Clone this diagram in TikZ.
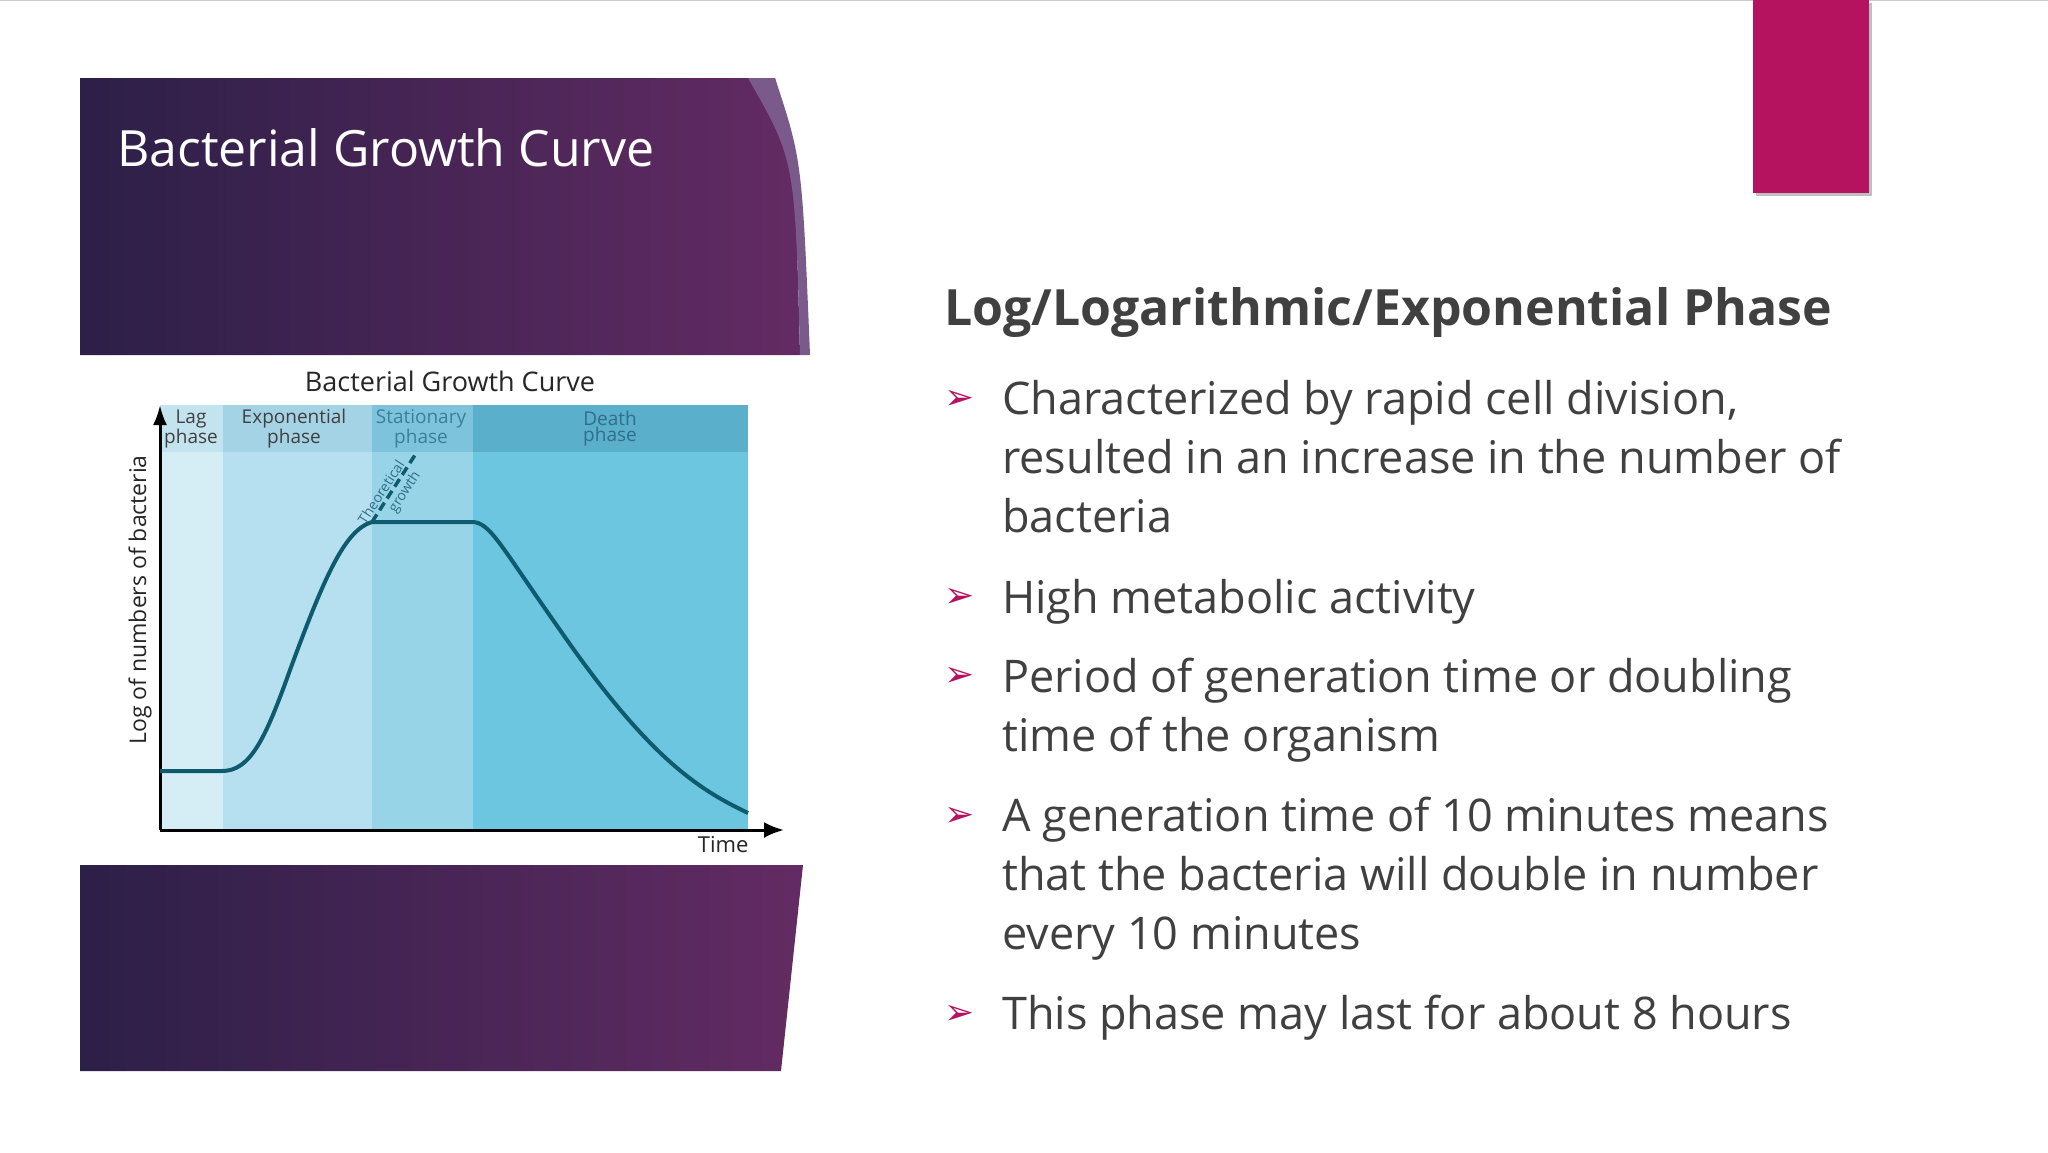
\documentclass[tikz,border=0pt]{standalone}
\usepackage{fontspec}
\usetikzlibrary{arrows.meta}
\setmainfont{Open Sans}
\newfontfamily\dejavu{DejaVu Sans}
\definecolor{txt}{HTML}{404040}
\definecolor{pink}{HTML}{B5135F}
\definecolor{curve}{HTML}{0E5A6E}
\definecolor{pdark}{HTML}{2C1F48}
\definecolor{plight}{HTML}{632B63}
\definecolor{strip}{HTML}{7A5A8A}
\definecolor{bA}{HTML}{D5EEF6}
\definecolor{bB}{HTML}{B6E0EF}
\definecolor{bC}{HTML}{98D4E8}
\definecolor{bD}{HTML}{6CC6DF}
\definecolor{hA}{HTML}{C3E4EF}
\definecolor{hB}{HTML}{A3D3E4}
\definecolor{hC}{HTML}{7EC3DC}
\definecolor{hD}{HTML}{5AAFCA}
\definecolor{tS}{HTML}{3C7F9A}
\definecolor{tD}{HTML}{2F6F8A}
\tikzset{
  bl/.style={anchor=west,text=txt,font=\fontsize{45}{59}\selectfont,align=left,inner sep=0pt},
  mk/.style={anchor=center,text=pink,font=\dejavu\fontsize{36}{36}\selectfont},
  hd/.style={font=\fontsize{19}{16}\selectfont,align=center,inner sep=0pt},
  th/.style={rotate=57,font=\fontsize{14}{14}\selectfont,text=tD,inner sep=0pt},
}
\begin{document}
\begin{tikzpicture}[x=1pt,y=-1pt]
\useasboundingbox[fill=white] (0,0) rectangle (2048,1152);
\draw[gray!40,line width=2pt] (0,0) -- (2048,0);
% pink block
\fill[black!25] (1756,3) rectangle (1872,196);
\fill[pink] (1753,0) rectangle (1869,193);
% header
\shade[left color=pdark,right color=plight] (80,78) -- (775,78) .. controls (795,160) .. (800,355) -- (80,355) -- cycle;
\fill[strip] (748,78) -- (775,78) .. controls (802,160) .. (810,355) -- (800,355) .. controls (795,160) .. (748,78) -- cycle;
\node[anchor=west,text=white,font=\fontsize{50}{50}\selectfont,inner sep=0pt] (title) at (117,148) {Bacterial Growth Curve};
% bottom block
\shade[left color=pdark,right color=plight] (80,865) -- (803,865) -- (781,1071) -- (80,1071) -- cycle;
% chart bands
\fill[bA] (160,405) rectangle (223,829);
\fill[bB] (223,405) rectangle (372,829);
\fill[bC] (372,405) rectangle (473,829);
\fill[bD] (473,405) rectangle (748,829);
\fill[hA] (160,405) rectangle (223,452);
\fill[hB] (223,405) rectangle (372,452);
\fill[hC] (372,405) rectangle (473,452);
\fill[hD] (473,405) rectangle (748,452);
\node[hd,text=txt] (lag) at (191,429) {Lag\\phase};
\node[hd,text=txt] (exp) at (294,429) {Exponential\\phase};
\node[hd,text=tS] (sta) at (421,429) {Stationary\\phase};
\node[hd,text=tD] (dea) at (610,429) {Death\\phase};
\node[font=\fontsize{27}{27}\selectfont,text=black!85] (ctitle) at (450,381) {Bacterial Growth Curve};
% axes
\draw[line width=3pt,-{Latex[length=20pt,width=16pt]}] (160,830) -- (784,830);
\draw[line width=3pt,-{Latex[length=20pt,width=14pt]}] (160,830) -- (160,405);
\node[font=\fontsize{22}{22}\selectfont,text=black!85,anchor=north east] (time) at (752,833) {Time};
\node[rotate=90,font=\fontsize{23}{23}\selectfont,text=black!85] (ylab) at (140,600) {Log of numbers of bacteria};
% curve
\coordinate (c0) at (160,771);
\coordinate (c1) at (222,771);
\coordinate (c2) at (372,522);
\coordinate (c3) at (472,522);
\coordinate (c4) at (748,813);
\draw[curve,line width=4pt,line join=round] (c0) -- (c1) .. controls (250,771) and (265,740) .. (290,670) .. controls (325,575) and (345,530) .. (c2) -- (c3) .. controls (490,522) and (500,545) .. (560,630) .. controls (650,760) and (700,790) .. (c4);
\draw[curve,line width=3.5pt,dash pattern=on 9pt off 5pt] (c2) -- (415,455);
\node[th] (theo) at (381,492) {Theoretical};
\node[th] (grow) at (405,492) {growth};
% right text
\node[anchor=west,text=txt,font=\bfseries\fontsize{50}{50}\selectfont,inner sep=0pt] (head) at (944,313) {Log/Logarithmic/Exponential Phase};
\node[bl,anchor=north west] (b1) at (1002,380) {Characterized by rapid cell division,\\resulted in an increase in the number of\\bacteria};
\node[bl,anchor=north west] (b2) at (1002,579) {High metabolic activity};
\node[bl,anchor=north west] (b3) at (1002,658) {Period of generation time or doubling\\time of the organism};
\node[bl,anchor=north west] (b4) at (1002,797) {A generation time of 10 minutes means\\that the bacteria will double in number\\every 10 minutes};
\node[bl,anchor=north west] (b5) at (1002,995) {This phase may last for about 8 hours};
\foreach \y in {400,598,677,817,1015} \node[mk] at (960,\y) {➢};
\end{tikzpicture}
\end{document}
